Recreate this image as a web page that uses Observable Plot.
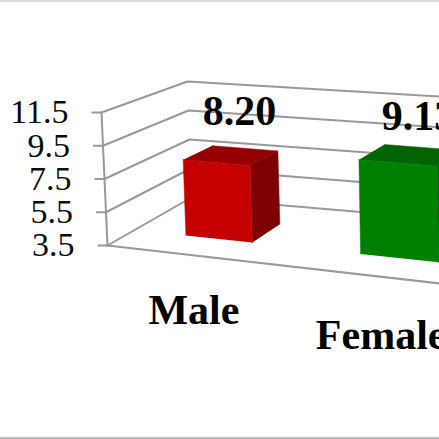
<!DOCTYPE html>
<html>
<head>
<meta charset="utf-8">
<script src="https://cdn.jsdelivr.net/npm/d3@7"></script>
<script src="https://cdn.jsdelivr.net/npm/@observablehq/plot@0.6"></script>
<style>
html,body{margin:0;padding:0;background:#fff;overflow:hidden}
#chart{position:relative;width:439px;height:439px;overflow:hidden}
#chart svg{display:block;background:transparent}
#chart .edge{position:absolute;left:0;width:439px;height:2px}
</style>
</head>
<body>
<div id="chart">
<div class="edge" style="top:0;background:#dcdcdc"></div>
<div class="edge" style="bottom:0;background:#bcbcbc"></div>
</div>
<script>
const categories = ["Male", "Female"];
const values = [8.20, 9.13];
const valueLabels = ["8.20", "9.13"];
const tickValues = [3.5, 5.5, 7.5, 9.5, 11.5];
const faceColors = [
  {front: "#c40000", top: "#960000", side: "#7c0000"},
  {front: "#008000", top: "#006400", side: "#004f00"}
];

const vMin = 3.5, vMax = 11.5;
// Corners of the 3D box as the camera sees it: [across][depth][bottom, top]
const box = [
  [[[107, 245], [101, 112]], [[191, 197], [187, 81]]],
  [[[439, 283], [438, 140]], [[505, 224], [504, 100]]]
];
const lerp = (a, b, t) => a + (b - a) * t;
function project(p, d, v) {
  const t = (v - vMin) / (vMax - vMin);
  const at = (k) => lerp(
    lerp(lerp(box[0][0][0][k], box[0][0][1][k], t), lerp(box[0][1][0][k], box[0][1][1][k], t), d),
    lerp(lerp(box[1][0][0][k], box[1][0][1][k], t), lerp(box[1][1][0][k], box[1][1][1][k], t), d),
    p);
  const yPx = at(1);
  // y stays in value units on the plot's own y scale
  return {x: at(0), y: vMin + (245 - yPx) / (245 - 112) * (vMax - vMin)};
}
// perspective spacing of category slots along the floor
const slot = (u) => 0.258 + 0.509 * u + 0.044 * u * u;
const halfBar = 0.2, dFront = 0.32, dBack = 0.675;
const tickLength = 10;

const pt = (p, d, v, extra) => ({...project(p, d, v), ...extra});

const grid = tickValues.flatMap((v) => [
  pt(0, 0, v, {v}), pt(0, 1, v, {v}), pt(1, 1, v, {v})
]);
const ticks = tickValues.map((v) => ({...project(0, 0, v), v, label: v.toFixed(1)}));
const axisLine = [pt(0, 0, vMin), pt(0, 0, vMax)];
const floorFront = [pt(0, 0, vMin), pt(1, 0, vMin)];

const faces = categories.flatMap((c, i) => {
  const a = slot(i - halfBar), b = slot(i + halfBar), v = values[i], f = faceColors[i];
  const poly = (name, fill, corners) =>
    corners.map(([p, d, w]) => pt(p, d, w, {id: c + name, fill}));
  return [
    ...poly("top", f.top, [[a, dFront, v], [b, dFront, v], [b, dBack, v], [a, dBack, v]]),
    ...poly("side", f.side, [[b, dFront, vMin], [b, dFront, v], [b, dBack, v], [b, dBack, vMin]]),
    ...poly("front", f.front, [[a, dFront, vMin], [a, dFront, v], [b, dFront, v], [b, dFront, vMin]])
  ];
});

const barLabels = categories.map((c, i) => ({
  ...project(slot(i), 0.64, values[i] / 2 + 6.74), text: valueLabels[i]
}));
// category labels follow a line a little steeper than the floor edge
const catLabels = categories.map((c, i) => ({
  x: project(slot(i) * 1.02 - 0.015, 0, vMin).x,
  y: project(slot(i) * 1.2, 0, vMin).y,
  text: c
}));

const gridColor = "#999999";
const serif = "'Liberation Serif', 'Times New Roman', serif";

const chart = Plot.plot({
  width: 439,
  height: 439,
  margin: 0,
  style: {background: "transparent"},
  x: {type: "linear", domain: [0, 439], range: [0, 439], axis: null},
  y: {type: "linear", domain: [vMin, vMax], range: [245, 112], axis: null},
  marks: [
    Plot.line(grid, {x: "x", y: "y", z: "v", stroke: gridColor, strokeWidth: 2, curve: "linear"}),
    Plot.link(ticks, {x1: (d) => d.x - tickLength, x2: "x", y1: "y", y2: "y", stroke: gridColor, strokeWidth: 2}),
    Plot.line(axisLine, {x: "x", y: "y", stroke: gridColor, strokeWidth: 2}),
    Plot.line(floorFront, {x: "x", y: "y", stroke: gridColor, strokeWidth: 2.2}),
    Plot.line(faces, {x: "x", y: "y", z: "id", fill: "fill", stroke: "fill", strokeWidth: 0.5}),
    Plot.text(ticks, {x: "x", y: "y", text: "label", dx: -33, textAnchor: "end", fontSize: 34, fontFamily: serif, fill: "#0a0a0a"}),
    Plot.text(barLabels, {x: "x", y: "y", text: "text", dx: -1, dy: 3, fontSize: 42, fontWeight: "bold", fontFamily: serif, fill: "#000"}),
    Plot.text(catLabels, {x: "x", y: "y", text: "text", dy: 53, dx: 4, fontSize: 42, fontWeight: "bold", fontFamily: serif, fill: "#000"})
  ]
});
document.getElementById("chart").appendChild(chart);
</script>
</body>
</html>
